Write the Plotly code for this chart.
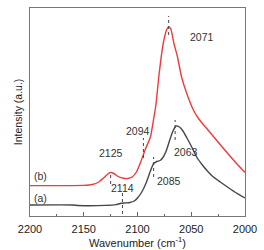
import plotly.graph_objects as go

# Curve (a) - black
wn_a = [2200, 2160, 2155, 2130, 2120, 2116, 2112, 2107, 2103, 2100, 2096, 2092, 2088, 2085,
        2082, 2079, 2076, 2073, 2070, 2067, 2064, 2061, 2058, 2054, 2050, 2045, 2040, 2035,
        2030, 2023, 2015, 2008, 2000]
int_a = [11.0, 11.0, 10.5, 10.6, 11.4, 12.5, 13.0, 13.5, 15.0, 18.0, 24.0, 33.0, 45.0, 52.5,
         54.5, 55.5, 59.0, 66.0, 76.0, 85.0, 90.0, 89.0, 85.5, 78.0, 70.0, 59.0, 51.5, 45.0,
         39.5, 34.0, 28.0, 23.0, 18.0]

# Curve (b) - red
wn_b = [2200, 2170, 2150, 2142, 2136, 2131, 2127, 2125, 2122, 2118, 2113, 2109, 2105, 2101,
        2097, 2093, 2088, 2085, 2083, 2080, 2076, 2073, 2071, 2069, 2066, 2063, 2059, 2054,
        2048, 2043, 2036, 2029, 2022, 2014, 2007, 2000]
int_b = [30.4, 30.4, 30.6, 31.5, 34.0, 38.5, 42.5, 43.5, 42.5, 39.5, 37.7, 37.5, 39.0, 44.0,
         54.0, 66.0, 79.0, 97.0, 110.0, 141.0, 173.0, 186.0, 189.3, 187.0, 172.0, 160.0, 139.0,
         122.0, 106.0, 97.0, 88.0, 79.0, 70.0, 60.0, 51.5, 43.5]

# Peak labels and their dotted marker lines
peak_labels = ["2071", "2094", "2125", "2114", "2085", "2063"]
peak_wn = [2071, 2094.5, 2125, 2114, 2085, 2065]
peak_y0 = [181, 58, 32, 2, 39, 76]
peak_y1 = [200, 78, 44, 23, 59, 96]
label_wn = [2040, 2100, 2125, 2114, 2071, 2055]
label_int = [179, 85, 63, 28, 35, 64]

curve_labels = ["(a)", "(b)"]
curve_label_wn = [2190, 2190]
curve_label_int = [18, 40]

x_ticks = [2200, 2150, 2100, 2050, 2000]

FONT = "Liberation Sans, Arial"

fig = go.Figure()
fig.add_trace(go.Scatter(x=wn_a, y=int_a, mode="lines",
                         line=dict(color="#474747", width=1.4, shape="spline", smoothing=0.5),
                         showlegend=False))
fig.add_trace(go.Scatter(x=wn_b, y=int_b, mode="lines",
                         line=dict(color="#ee3b3b", width=1.4, shape="spline", smoothing=0.5),
                         showlegend=False))

for wn, y0, y1 in zip(peak_wn, peak_y0, peak_y1):
    fig.add_shape(type="line", x0=wn, x1=wn, y0=y0, y1=y1, xref="x", yref="y",
                  line=dict(color="#444444", width=1, dash="dot"))

for t, x, y in zip(peak_labels, label_wn, label_int):
    fig.add_annotation(x=x, y=y, text=t, showarrow=False, xref="x", yref="y",
                       font=dict(family=FONT, size=10.5, color="#333333"))

for t, x, y in zip(curve_labels, curve_label_wn, curve_label_int):
    fig.add_annotation(x=x, y=y, text=t, showarrow=False, xref="x", yref="y",
                       font=dict(family=FONT, size=10.5, color="#333333"))

fig.add_annotation(x=-0.055, y=0.5, xref="paper", yref="paper", xanchor="center",
                   yanchor="middle", text="Intensity (a.u.)", textangle=-90, showarrow=False,
                   font=dict(family=FONT, size=10.5, color="#222222"))
fig.add_annotation(x=0.5, y=-0.125, xref="paper", yref="paper", xanchor="center",
                   yanchor="middle", text="Wavenumber (cm<sup>-1</sup>)", showarrow=False,
                   font=dict(family=FONT, size=11, color="#222222"))

fig.update_xaxes(range=[2200, 2000], tickvals=x_ticks, ticks="inside", ticklen=4,
                 tickcolor="#666666", showline=True, linecolor="#777777", linewidth=1,
                 mirror=True, showgrid=False, zeroline=False, ticklabelstandoff=3,
                 minor=dict(ticks="inside", ticklen=2, dtick=25, tickcolor="#666666"),
                 tickfont=dict(family=FONT, size=11, color="#222222"))
fig.update_yaxes(range=[0, 208], showticklabels=False, ticks="", showline=True,
                 linecolor="#777777", linewidth=1, mirror=True, showgrid=False, zeroline=False)

fig.update_layout(width=264, height=250, margin=dict(l=30, r=19, t=8, b=34),
                  plot_bgcolor="white", paper_bgcolor="white")

fig.write_html("out.html")
